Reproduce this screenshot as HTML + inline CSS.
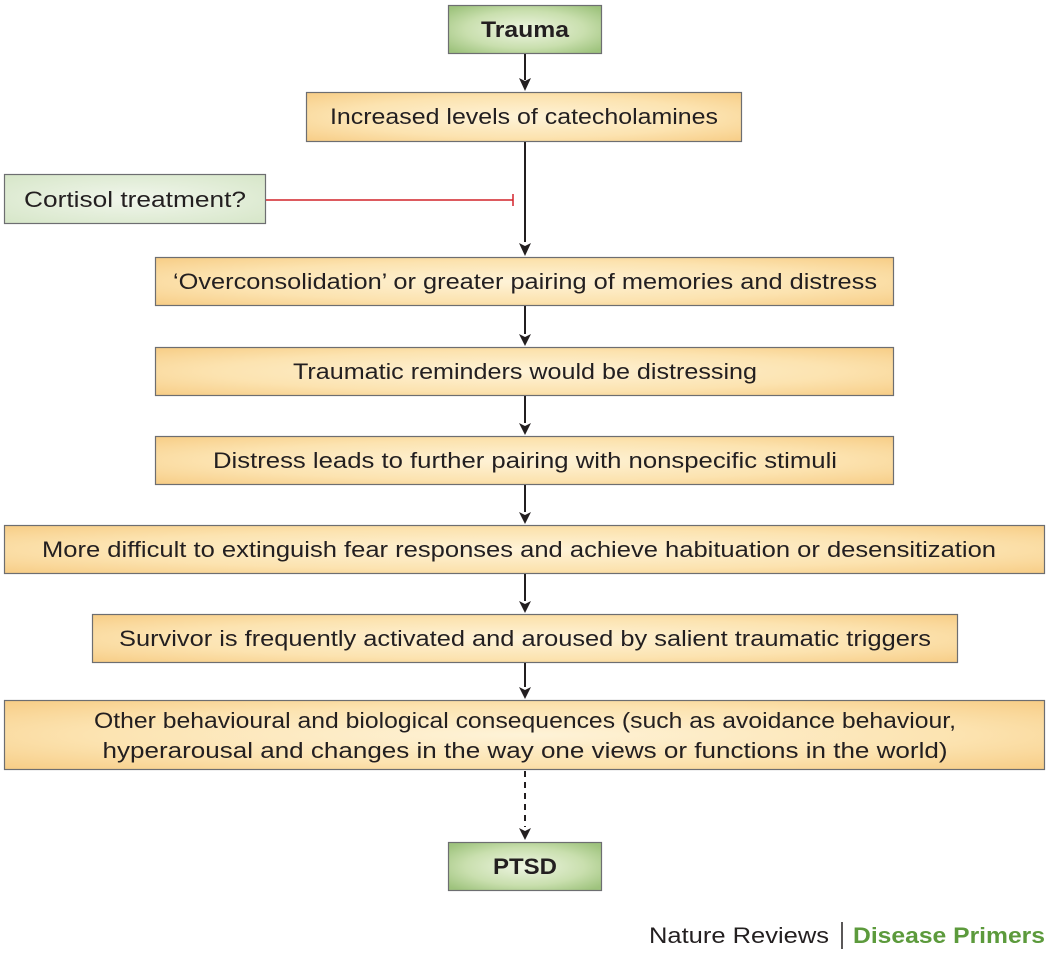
<!DOCTYPE html>
<html><head><meta charset="utf-8"><style>
html,body{margin:0;padding:0;background:#fff;}
svg{display:block;}
text{font-family:"Liberation Sans",sans-serif;fill:#231f20;}
</style></head><body>
<svg width="1050" height="954" viewBox="0 0 1050 954" xmlns="http://www.w3.org/2000/svg">
<defs>
<radialGradient id="o" cx="50%" cy="50%" r="70%">
<stop offset="0" stop-color="#fef3d8"/><stop offset="0.6" stop-color="#fce3b0"/><stop offset="1" stop-color="#f7cd86"/>
</radialGradient>
<radialGradient id="g" cx="50%" cy="50%" r="65%">
<stop offset="0" stop-color="#eef5e2"/><stop offset="0.6" stop-color="#c9dfae"/><stop offset="1" stop-color="#9ec37d"/>
</radialGradient>
<radialGradient id="lg" cx="50%" cy="50%" r="70%">
<stop offset="0" stop-color="#f1f6ec"/><stop offset="1" stop-color="#d6e6c8"/>
</radialGradient>
<marker id="a" viewBox="0 0 10 12" refX="5" refY="12" markerWidth="10" markerHeight="12" markerUnits="userSpaceOnUse" orient="auto-start-reverse">
<path d="M0,0 L5,3 L10,0 L5,12 Z" fill="#231f20" transform="rotate(0)"/>
</marker>
</defs>
<g stroke="#6d6e71" stroke-width="1.2">
<rect x="448.5" y="5.5" width="153" height="48" fill="url(#g)"/>
<rect x="306.5" y="92.5" width="435" height="49" fill="url(#o)"/>
<rect x="4.5" y="174.5" width="261" height="49" fill="url(#lg)"/>
<rect x="155.5" y="257.5" width="738" height="48" fill="url(#o)"/>
<rect x="155.5" y="347.5" width="738" height="48" fill="url(#o)"/>
<rect x="155.5" y="436.5" width="738" height="48" fill="url(#o)"/>
<rect x="4.5" y="525.5" width="1040" height="48" fill="url(#o)"/>
<rect x="92.5" y="614.5" width="865" height="48" fill="url(#o)"/>
<rect x="4.5" y="700.5" width="1040" height="69" fill="url(#o)"/>
<rect x="448.5" y="842.5" width="153" height="48" fill="url(#g)"/>
</g>
<g fill="#231f20">
<line x1="525" y1="54" x2="525" y2="80" stroke="#231f20" stroke-width="2"/>
<path d="M519,78 L525,81 L531,78 L525,91 Z"/>
<line x1="525" y1="142" x2="525" y2="242" stroke="#231f20" stroke-width="2"/>
<path d="M519,243 L525,246 L531,243 L525,256 Z"/>
<line x1="525" y1="306" x2="525" y2="334" stroke="#231f20" stroke-width="2"/>
<path d="M519,334 L525,337 L531,334 L525,346 Z"/>
<line x1="525" y1="396" x2="525" y2="423" stroke="#231f20" stroke-width="2"/>
<path d="M519,423 L525,426 L531,423 L525,435 Z"/>
<line x1="525" y1="485" x2="525" y2="512" stroke="#231f20" stroke-width="2"/>
<path d="M519,512 L525,515 L531,512 L525,524 Z"/>
<line x1="525" y1="574" x2="525" y2="601" stroke="#231f20" stroke-width="2"/>
<path d="M519,601 L525,604 L531,601 L525,613 Z"/>
<line x1="525" y1="663" x2="525" y2="687" stroke="#231f20" stroke-width="2"/>
<path d="M519,687 L525,690 L531,687 L525,699 Z"/>
<line x1="525" y1="771" x2="525" y2="827" stroke="#231f20" stroke-width="2" stroke-dasharray="6,5"/>
<path d="M519,828 L525,831 L531,828 L525,840 Z"/>
</g>
<line x1="266" y1="200" x2="513" y2="200" stroke="#d2232a" stroke-width="1.5"/>
<line x1="513" y1="194" x2="513" y2="206" stroke="#d2232a" stroke-width="1.5"/>
<g font-size="22" text-anchor="middle">
<text x="525" y="37" font-weight="bold" textLength="88" lengthAdjust="spacingAndGlyphs">Trauma</text>
<text x="524" y="124" textLength="388" lengthAdjust="spacingAndGlyphs">Increased levels of catecholamines</text>
<text x="135" y="207" textLength="222" lengthAdjust="spacingAndGlyphs">Cortisol treatment?</text>
<text x="525" y="289" textLength="704" lengthAdjust="spacingAndGlyphs">‘Overconsolidation’ or greater pairing of memories and distress</text>
<text x="525" y="379" textLength="464" lengthAdjust="spacingAndGlyphs">Traumatic reminders would be distressing</text>
<text x="525" y="468" textLength="624" lengthAdjust="spacingAndGlyphs">Distress leads to further pairing with nonspecific stimuli</text>
<text x="519" y="557" textLength="954" lengthAdjust="spacingAndGlyphs">More difficult to extinguish fear responses and achieve habituation or desensitization</text>
<text x="525" y="646" textLength="812" lengthAdjust="spacingAndGlyphs">Survivor is frequently activated and aroused by salient traumatic triggers</text>
<text x="525" y="728" textLength="862" lengthAdjust="spacingAndGlyphs">Other behavioural and biological consequences (such as avoidance behaviour,</text>
<text x="525" y="758" textLength="845" lengthAdjust="spacingAndGlyphs">hyperarousal and changes in the way one views or functions in the world)</text>
<text x="525" y="874" font-weight="bold" textLength="64" lengthAdjust="spacingAndGlyphs">PTSD</text>
</g>
<text x="649" y="943" font-size="22" textLength="180" lengthAdjust="spacingAndGlyphs">Nature Reviews</text>
<line x1="842" y1="922" x2="842" y2="949" stroke="#231f20" stroke-width="1.5"/>
<text x="853" y="943" font-size="22" font-weight="bold" style="fill:#5c9a3c" textLength="192" lengthAdjust="spacingAndGlyphs">Disease Primers</text>
</svg>
</body></html>
